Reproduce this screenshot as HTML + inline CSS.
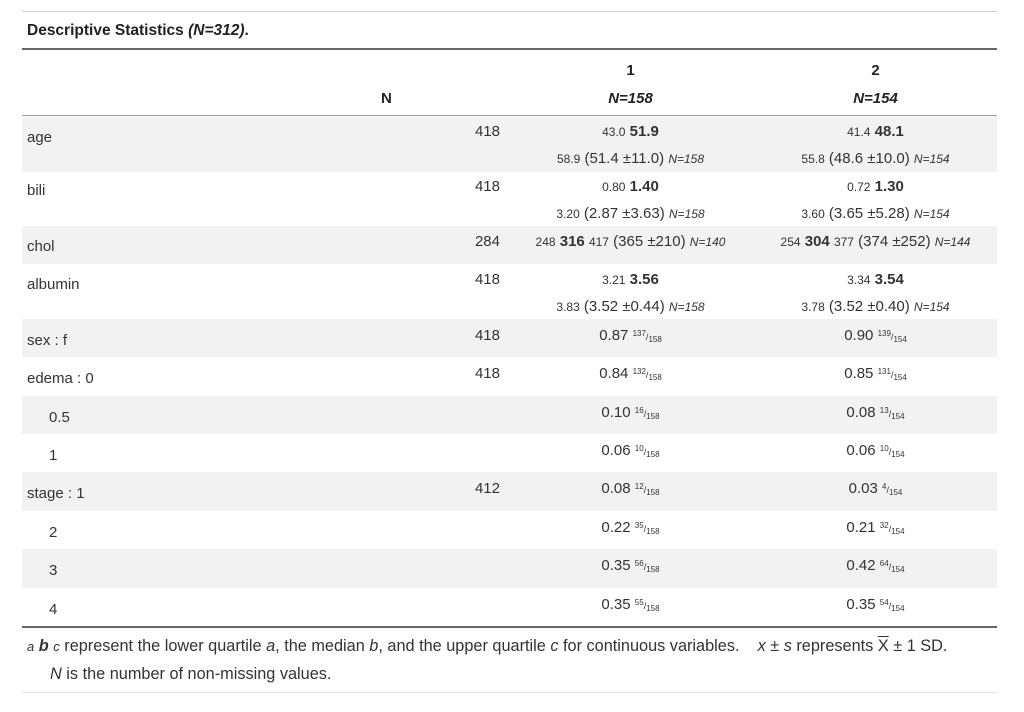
<!DOCTYPE html>
<html><head><meta charset="utf-8"><style>
*{margin:0;padding:0;box-sizing:border-box}
body{width:1024px;height:712px;background:#fff;font-family:"Liberation Sans",sans-serif;color:#333;position:relative;overflow:hidden}
.a{position:absolute;white-space:nowrap}
.row{position:absolute;left:22px;width:975px}
.row>div{margin-top:2px}
.g{background:#f2f2f2}
.lab{position:absolute;left:5px;font-size:15px;color:#333}
.n{position:absolute;right:497px;font-size:15px}
.c1,.c2{position:absolute;width:245px;text-align:center;font-size:15px;white-space:nowrap}
.c1{left:486px}.c2{left:731px}
.s{font-size:12px}
.b{font-weight:bold;font-size:15px}
.i{font-style:italic;font-size:12px}
.fr{font-size:9px}
.fr sup{font-size:8px;vertical-align:4px}
.fr sub{font-size:8px;vertical-align:-2px}
</style></head><body>
<div class="a" style="left:22px;top:11px;width:975px;border-top:1px solid #d3d3d3"></div>
<div class="a" style="left:27px;top:22px;font-size:15.5px;font-weight:bold;color:#222">Descriptive Statistics <i>(N=312)</i>.</div>
<div class="a" style="left:22px;top:48px;width:975px;border-top:2px solid #666"></div>
<div class="a" style="left:381px;top:90px;font-weight:bold;font-size:15px;color:#222">N</div>
<div class="a" style="left:508px;top:62px;width:245px;text-align:center;font-weight:bold;font-size:15px;color:#222">1</div>
<div class="a" style="left:508px;top:90px;width:245px;text-align:center;font-weight:bold;font-style:italic;font-size:15px;color:#222">N=158</div>
<div class="a" style="left:753px;top:62px;width:245px;text-align:center;font-weight:bold;font-size:15px;color:#222">2</div>
<div class="a" style="left:753px;top:90px;width:245px;text-align:center;font-weight:bold;font-style:italic;font-size:15px;color:#222">N=154</div>
<div class="a" style="left:22px;top:115px;width:975px;border-top:1px solid #999"></div>

<div class="row g" style="top:117px;height:55px">
<div class="lab" style="top:10px">age</div><div class="n" style="top:4px">418</div>
<div class="c1" style="top:4px"><span class="s">43.0</span> <span class="b">51.9</span></div>
<div class="c1" style="top:31px"><span class="s">58.9</span> (51.4 ±11.0) <span class="i">N=158</span></div>
<div class="c2" style="top:4px"><span class="s">41.4</span> <span class="b">48.1</span></div>
<div class="c2" style="top:31px"><span class="s">55.8</span> (48.6 ±10.0) <span class="i">N=154</span></div></div>

<div class="row" style="top:172px;height:54px">
<div class="lab" style="top:8px">bili</div><div class="n" style="top:4px">418</div>
<div class="c1" style="top:4px"><span class="s">0.80</span> <span class="b">1.40</span></div>
<div class="c1" style="top:31px"><span class="s">3.20</span> (2.87 ±3.63) <span class="i">N=158</span></div>
<div class="c2" style="top:4px"><span class="s">0.72</span> <span class="b">1.30</span></div>
<div class="c2" style="top:31px"><span class="s">3.60</span> (3.65 ±5.28) <span class="i">N=154</span></div></div>

<div class="row g" style="top:226px;height:38px">
<div class="lab" style="top:10px">chol</div><div class="n" style="top:5px">284</div>
<div class="c1" style="top:5px"><span class="s">248</span> <span class="b">316</span> <span class="s">417</span> (365 ±210) <span class="i">N=140</span></div>
<div class="c2" style="top:5px"><span class="s">254</span> <span class="b">304</span> <span class="s">377</span> (374 ±252) <span class="i">N=144</span></div></div>

<div class="row" style="top:264px;height:55px">
<div class="lab" style="top:10px">albumin</div><div class="n" style="top:5px">418</div>
<div class="c1" style="top:5px"><span class="s">3.21</span> <span class="b">3.56</span></div>
<div class="c1" style="top:32px"><span class="s">3.83</span> (3.52 ±0.44) <span class="i">N=158</span></div>
<div class="c2" style="top:5px"><span class="s">3.34</span> <span class="b">3.54</span></div>
<div class="c2" style="top:32px"><span class="s">3.78</span> (3.52 ±0.40) <span class="i">N=154</span></div></div>

<div class="row g" style="top:319px;height:38px">
<div class="lab" style="top:11px">sex : f</div><div class="n" style="top:6px">418</div>
<div class="c1" style="top:6px">0.87 <span class="fr"><sup>137</sup>/<sub>158</sub></span></div>
<div class="c2" style="top:6px">0.90 <span class="fr"><sup>139</sup>/<sub>154</sub></span></div></div>

<div class="row" style="top:357px;height:39px">
<div class="lab" style="top:11px">edema : 0</div><div class="n" style="top:6px">418</div>
<div class="c1" style="top:6px">0.84 <span class="fr"><sup>132</sup>/<sub>158</sub></span></div>
<div class="c2" style="top:6px">0.85 <span class="fr"><sup>131</sup>/<sub>154</sub></span></div></div>

<div class="row g" style="top:396px;height:38px">
<div class="lab" style="top:11px;left:27px">0.5</div>
<div class="c1" style="top:6px">0.10 <span class="fr"><sup>16</sup>/<sub>158</sub></span></div>
<div class="c2" style="top:6px">0.08 <span class="fr"><sup>13</sup>/<sub>154</sub></span></div></div>

<div class="row" style="top:434px;height:38px">
<div class="lab" style="top:11px;left:27px">1</div>
<div class="c1" style="top:6px">0.06 <span class="fr"><sup>10</sup>/<sub>158</sub></span></div>
<div class="c2" style="top:6px">0.06 <span class="fr"><sup>10</sup>/<sub>154</sub></span></div></div>

<div class="row g" style="top:472px;height:39px">
<div class="lab" style="top:11px">stage : 1</div><div class="n" style="top:6px">412</div>
<div class="c1" style="top:6px">0.08 <span class="fr"><sup>12</sup>/<sub>158</sub></span></div>
<div class="c2" style="top:6px">0.03 <span class="fr"><sup>4</sup>/<sub>154</sub></span></div></div>

<div class="row" style="top:511px;height:38px">
<div class="lab" style="top:11px;left:27px">2</div>
<div class="c1" style="top:6px">0.22 <span class="fr"><sup>35</sup>/<sub>158</sub></span></div>
<div class="c2" style="top:6px">0.21 <span class="fr"><sup>32</sup>/<sub>154</sub></span></div></div>

<div class="row g" style="top:549px;height:39px">
<div class="lab" style="top:11px;left:27px">3</div>
<div class="c1" style="top:6px">0.35 <span class="fr"><sup>56</sup>/<sub>158</sub></span></div>
<div class="c2" style="top:6px">0.42 <span class="fr"><sup>64</sup>/<sub>154</sub></span></div></div>

<div class="row" style="top:588px;height:38px">
<div class="lab" style="top:11px;left:27px">4</div>
<div class="c1" style="top:6px">0.35 <span class="fr"><sup>55</sup>/<sub>158</sub></span></div>
<div class="c2" style="top:6px">0.35 <span class="fr"><sup>54</sup>/<sub>154</sub></span></div></div>

<div class="a" style="left:22px;top:626px;width:975px;border-top:2px solid #666"></div>
<div class="a" style="left:27px;top:637px;font-size:16.3px;color:#333"><i style="font-size:13px">a</i> <b><i>b</i></b> <i style="font-size:13px">c</i> represent the lower quartile <i>a</i>, the median <i>b</i>, and the upper quartile <i>c</i> for continuous variables. &nbsp;&nbsp; <i>x</i> ± <i>s</i> represents <span style="text-decoration:overline">X</span> ± 1 SD.</div>
<div class="a" style="left:50px;top:665px;font-size:16.3px;color:#333"><i>N</i> is the number of non-missing values.</div>
<div class="a" style="left:22px;top:692px;width:975px;border-top:1px solid #e3e3e3"></div>
</body></html>
